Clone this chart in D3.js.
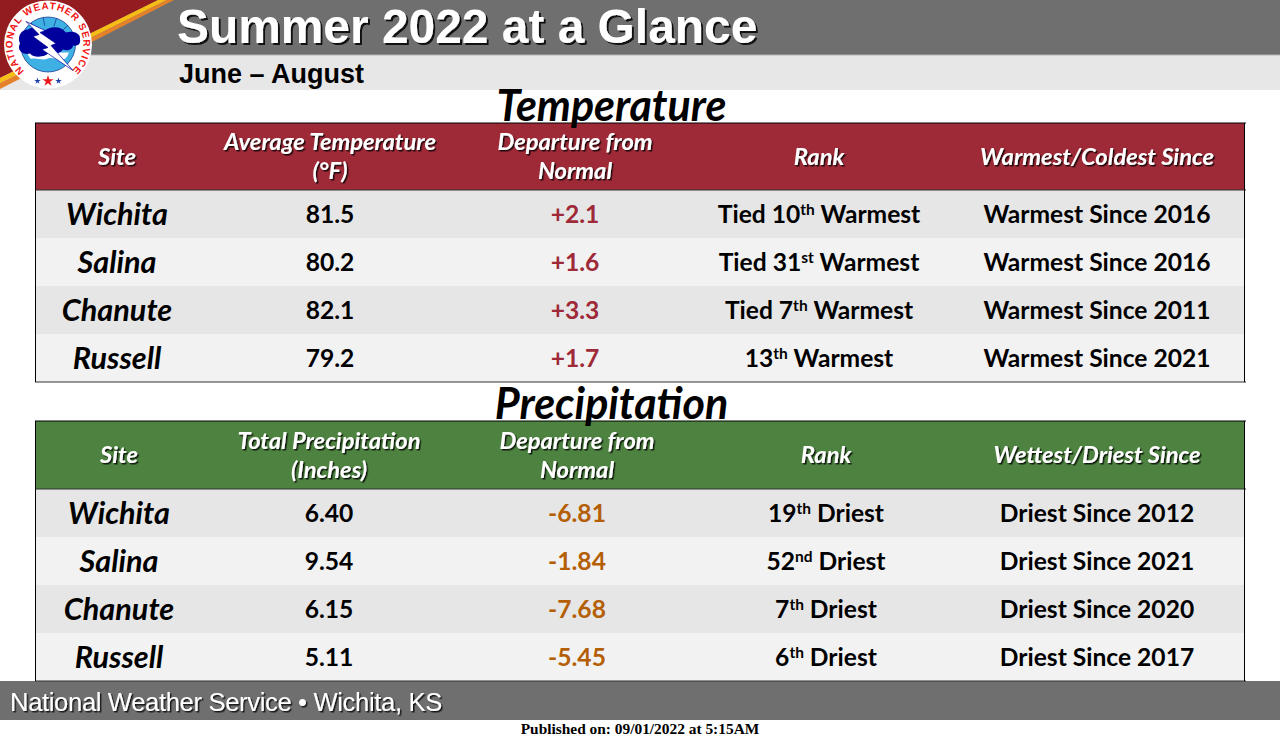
<!DOCTYPE html>
<html><head><meta charset="utf-8">
<script src="https://cdnjs.cloudflare.com/ajax/libs/d3/7.8.5/d3.min.js"></script>
<style>html,body{margin:0;padding:0;background:#fff;overflow:hidden}svg{display:block}</style>
</head><body><svg id="c" width="1280" height="740"></svg>
<script>
const title = "Summer 2022 at a Glance";
const subtitle = "June – August";
const sites = ["Wichita","Salina","Chanute","Russell"];
const tempHeaders = [["Site"],["Average Temperature","(°F)"],["Departure from","Normal"],["Rank"],["Warmest/Coldest Since"]];
const tempAvg = ["81.5","80.2","82.1","79.2"];
const tempDep = ["+2.1","+1.6","+3.3","+1.7"];
const tempRank = [["Tied 10","th"," Warmest"],["Tied 31","st"," Warmest"],["Tied 7","th"," Warmest"],["13","th"," Warmest"]];
const tempSince = ["Warmest Since 2016","Warmest Since 2016","Warmest Since 2011","Warmest Since 2021"];
const precHeaders = [["Site"],["Total Precipitation","(Inches)"],["Departure from","Normal"],["Rank"],["Wettest/Driest Since"]];
const precTotal = ["6.40","9.54","6.15","5.11"];
const precDep = ["-6.81","-1.84","-7.68","-5.45"];
const precRank = [["19","th"," Driest"],["52","nd"," Driest"],["7","th"," Driest"],["6","th"," Driest"]];
const precSince = ["Driest Since 2012","Driest Since 2021","Driest Since 2020","Driest Since 2017"];
const footer = "National Weather Service • Wichita, KS";
const published = "Published on: 09/01/2022 at 5:15AM";

const svg = d3.select("#c");
const defs = svg.append("defs");
function shadow(id,dx,dy,sd,op){
  const f = defs.append("filter").attr("id",id).attr("x","-10%").attr("y","-30%").attr("width","120%").attr("height","170%");
  f.append("feDropShadow").attr("dx",dx).attr("dy",dy).attr("stdDeviation",sd).attr("flood-color","#000").attr("flood-opacity",op);
}
shadow("sh",2,2,0.7,0.85);
shadow("sh2",1.5,1.5,0.6,0.8);

const FONT = "Lato, Carlito, sans-serif";
const ARIAL = "'Liberation Sans', Arial, sans-serif";

// Banner
svg.append("rect").attr("width",1280).attr("height",55).attr("fill","#6f6f6f");
svg.append("rect").attr("y",55).attr("width",1280).attr("height",35).attr("fill","#e7e7e7");
svg.append("rect").attr("y",54.5).attr("width",1280).attr("height",1).attr("fill","#b5b5b5");
svg.append("path").attr("d","M0 0H158L0 78Z").attr("fill","#931c20");
svg.append("path").attr("d","M158 0H167L0 83V78Z").attr("fill","#f6bd16");
svg.append("path").attr("d","M167 0H174L0 89V83Z").attr("fill","#e5812a");

// Logo
const logo = svg.append("g").attr("transform","translate(48,44.5)");
logo.append("circle").attr("r",44).attr("fill","#fff");
logo.append("circle").attr("r",27.5).attr("fill","#3fb0e4").attr("stroke","#0c2c86").attr("stroke-width",0.7);
[-58,-30,-2,26].forEach(a=>{
  const t=(a-90+20)*Math.PI/180;
  logo.append("line").attr("x1",19*Math.cos(t)).attr("y1",19*Math.sin(t)).attr("x2",27.5*Math.cos(t)).attr("y2",27.5*Math.sin(t)).attr("stroke","#0c2c86").attr("stroke-width",0.7);
});
logo.append("path").attr("d","M-21 8H21C18 16 10 21.5 0 21.5C-10 21.5 -18 16 -21 8Z").attr("fill","#fff");
logo.append("path").attr("d","M-19 15C-12 12 -6 17 0 14C6 12 11 17 18 14C15 20 8 26 0 26C-8 26 -15 20 -19 15Z").attr("fill","#3fb0e4");
logo.append("path").attr("d","M-28 -1C-31 -8 -27 -15 -20 -15C-16 -18 -8 -16 -6 -12C0 -18 12 -20 18 -12C24 -14 33 -12 32 -5C33 -1 30 2 25 1C25 5 19 7 15 5C12 10 4 10 2 7C-2 13 -14 14 -18 9C-24 11 -32 6 -28 -1Z").attr("fill","#00009c");
logo.append("path").attr("d","M-22 -23L-3 -14L-8 -12L8 -1L3 1L25 26L-6 5L0 3L-15 -8L-9 -10Z").attr("fill","#fff").attr("stroke","#00009c").attr("stroke-width",0.7);
defs.append("path").attr("id","arc").attr("d","M-20.4 29.1A35.5 35.5 0 1 1 20.4 29.1");
logo.append("text").attr("font-family",ARIAL).attr("font-weight",700).attr("font-size",9.8).attr("letter-spacing",1).attr("fill","#f01414")
  .append("textPath").attr("href","#arc").attr("startOffset","50%").attr("text-anchor","middle").text("NATIONAL WEATHER SERVICE");
[[-10.5,36.5,"#1c3fa8",1.6],[0,36.5,"#e81c1c",2.8],[10.5,36.5,"#1c3fa8",1.6]].forEach(d=>{
  logo.append("path").attr("d",d3.symbol(d3.symbolStar,d[3]*d[3]*5)()).attr("transform",`translate(${d[0]},${d[1]})`).attr("fill",d[2]);
});

svg.append("text").attr("x",177).attr("y",43).attr("font-family",ARIAL).attr("font-weight",700).attr("font-size",47.9).attr("fill","#fff").attr("filter","url(#sh)").text(title);
svg.append("text").attr("x",179).attr("y",82.5).attr("font-family",ARIAL).attr("font-weight",700).attr("font-size",27).attr("fill","#000").text(subtitle);

// Footer
svg.append("rect").attr("y",681).attr("width",1280).attr("height",39).attr("fill","#6f6f6f");
svg.append("text").attr("x",10).attr("y",711).attr("font-family",ARIAL).attr("font-size",25.6).attr("letter-spacing",-0.35).attr("fill","#fff").attr("filter","url(#sh2)").text(footer);
svg.append("text").attr("x",640).attr("y",734).attr("text-anchor","middle").attr("font-family","'Liberation Serif',serif").attr("font-weight",700).attr("font-size",15.4).attr("fill","#000").text(published);

function table(opt){
  const g = svg.append("g");
  const y = d3.scaleBand().domain(sites).range([opt.y0,opt.y0+48*sites.length]);
  const x = d3.scaleOrdinal().domain(d3.range(5)).range(opt.cols);
  g.append("rect").attr("x",36).attr("y",opt.top).attr("width",1209).attr("height",opt.y0-opt.top).attr("fill",opt.head);
  g.selectAll("rect.row").data(sites).join("rect").attr("class","row")
    .attr("x",36).attr("width",1209).attr("y",d=>y(d)).attr("height",y.bandwidth())
    .attr("fill",(d,i)=>i%2?"#f2f2f2":"#e6e6e6");
  g.append("text").attr("x",611.5).attr("y",opt.top-2).attr("text-anchor","middle").attr("font-family",FONT).attr("font-style","italic").attr("font-weight",700).attr("font-size",43).attr("fill","#000").text(opt.title);
  opt.headers.forEach((lines,i)=>{
    const cy = (opt.top+opt.y0)/2;
    lines.forEach((t,j)=>{
      g.append("text").attr("x",x(i)).attr("y",cy+8+(j-(lines.length-1)/2)*29)
       .attr("text-anchor","middle").attr("font-family",FONT).attr("font-style","italic").attr("font-weight",700)
       .attr("font-size",23.7).attr("fill","#fff").attr("filter","url(#sh2)").text(t);
    });
  });
  const cy = d=>y(d)+y.bandwidth()/2+9;
  g.selectAll("text.site").data(sites).join("text").attr("class","site").attr("x",x(0)).attr("y",d=>cy(d)+1.5)
    .attr("text-anchor","middle").attr("font-family",FONT).attr("font-style","italic").attr("font-weight",700).attr("font-size",30.6).attr("fill","#000").text(d=>d);
  const cell = (vals,col,fill)=>g.selectAll(null).data(vals).join("text").attr("x",x(col)).attr("y",(d,i)=>cy(sites[i]))
    .attr("text-anchor","middle").attr("font-family",FONT).attr("font-weight",700).attr("font-size",24.6).attr("fill",fill).text(d=>d);
  cell(opt.v1,1,"#000");
  cell(opt.dep,2,opt.depColor);
  const r = g.selectAll(null).data(opt.rank).join("text").attr("x",x(3)).attr("y",(d,i)=>cy(sites[i]))
    .attr("text-anchor","middle").attr("font-family",FONT).attr("font-weight",700).attr("font-size",24.6).attr("fill","#000");
  r.append("tspan").text(d=>d[0]);
  r.append("tspan").attr("dy",-8).attr("font-size",15.5).text(d=>d[1]);
  r.append("tspan").attr("dy",8).text(d=>d[2]);
  cell(opt.since,4,"#000");
  const ln=(x1,y1,x2,y2,w,c)=>g.append("line").attr("x1",x1).attr("y1",y1).attr("x2",x2).attr("y2",y2).attr("stroke",c||"#000").attr("stroke-width",w);
  ln(35,opt.top,1246,opt.top,1);
  ln(35,opt.y0,1246,opt.y0,1,"#333");
  ln(35,y.range()[1],1246,y.range()[1],1,"#333");
  ln(35.5,opt.top,35.5,y.range()[1],1);
  ln(1244.5,opt.top,1244.5,y.range()[1],1);
}
table({title:"Temperature",top:123,y0:190,cols:[117,330,575,819,1097],headers:tempHeaders,head:"#9e2a38",v1:tempAvg,dep:tempDep,depColor:"#9e2a38",rank:tempRank,since:tempSince});
table({title:"Precipitation",top:421,y0:489,cols:[119,329,577,826,1097],headers:precHeaders,head:"#4d8240",v1:precTotal,dep:precDep,depColor:"#b45f06",rank:precRank,since:precSince});
</script></body></html>
